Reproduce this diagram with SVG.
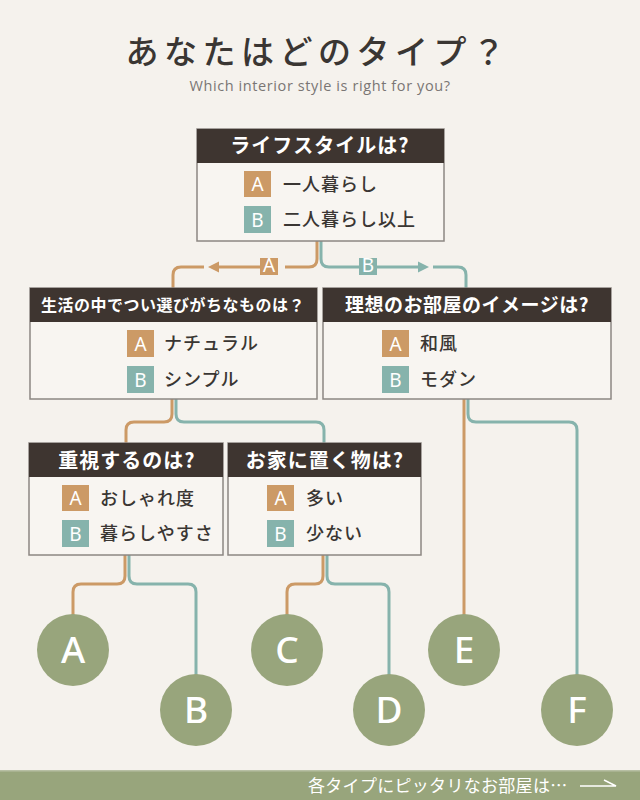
<svg xmlns="http://www.w3.org/2000/svg" width="640" height="800" viewBox="0 0 640 800">
<defs>
<style>
.bg{fill:#f5f2ed}
.body{fill:#f8f5f1;stroke:#8c8782;stroke-width:1.5}
.head{fill:#3e3530}
.ht{font-family:"Noto Sans CJK JP","Noto Sans",sans-serif;font-weight:700;fill:#ffffff;text-anchor:middle}
.ot{font-family:"Noto Sans CJK JP","Noto Sans",sans-serif;font-weight:500;font-size:18px;fill:#3a3633;letter-spacing:1px}
.ba{fill:#cc9a66}
.bb{fill:#86b3ac}
.bt{font-family:"Noto Sans","Noto Sans CJK JP",sans-serif;font-size:19px;fill:#ffffff;text-anchor:middle}
.co{fill:none;stroke:#cc9a66;stroke-width:3}
.ct{fill:none;stroke:#86b3ac;stroke-width:3}
.res{fill:#98a57c}
.rt{font-family:"Noto Sans","Liberation Sans",sans-serif;font-weight:500;font-size:37px;fill:#ffffff;text-anchor:middle}
</style>
</defs>
<rect class="bg" x="0" y="0" width="640" height="800"/>

<g id="title">
<text x="318" y="64" text-anchor="middle" font-family="'Noto Sans CJK JP','Noto Sans',sans-serif" font-weight="500" font-size="33" letter-spacing="5.5" fill="#3a3633">あなたはどのタイプ？</text>
<text x="320" y="91" text-anchor="middle" font-family="'Open Sans','Noto Sans',sans-serif" font-size="14.5" letter-spacing="0.6" fill="#7a7674">Which interior style is right for you?</text>
</g>

<g id="connectors">
<path class="co" d="M317,241 V259 Q317,267 309,267 H285"/>
<path class="co" d="M260,267 H217"/>
<polygon fill="#cc9a66" points="208,267 219,261.5 219,272.5"/>
<path class="co" d="M204,267 H181 Q173,267 173,275 V289"/>
<rect class="ba" x="260" y="258" width="18" height="17"/>
<text class="bt" x="269" y="272" font-size="14">A</text>
<path class="ct" d="M321,241 V259 Q321,267 329,267 H359"/>
<path class="ct" d="M377,267 H420"/>
<polygon fill="#86b3ac" points="429,267 418,261.5 418,272.5"/>
<path class="ct" d="M433,267 H458 Q466,267 466,275 V289"/>
<rect class="bb" x="359" y="258" width="18" height="17"/>
<text class="bt" x="368" y="272" font-size="14">B</text>

<path class="co" d="M172,399 V414 Q172,422 164,422 H134 Q126,422 126,430 V444"/>
<path class="ct" d="M176,399 V414 Q176,422 184,422 H316 Q324,422 324,430 V444"/>

<path class="co" d="M464,399 V615"/>
<path class="ct" d="M468,399 V414 Q468,422 476,422 H569 Q577,422 577,430 V675"/>

<path class="co" d="M125,555 V576 Q125,584 117,584 H81 Q73,584 73,592 V615"/>
<path class="ct" d="M129,555 V576 Q129,584 137,584 H188 Q196,584 196,592 V675"/>
<path class="co" d="M323,555 V576 Q323,584 315,584 H295 Q287,584 287,592 V615"/>
<path class="ct" d="M327,555 V576 Q327,584 335,584 H381 Q389,584 389,592 V675"/>
</g>

<g id="q-lifestyle">
<rect class="body" x="197" y="129" width="247" height="112"/>
<rect class="head" x="197" y="129" width="247" height="34"/>
<text class="ht" x="320" y="153" font-size="20" letter-spacing="1">ライフスタイルは?</text>
<rect class="ba" x="244" y="171" width="27" height="26"/>
<text class="bt" x="257.5" y="191">A</text>
<text class="ot" x="283" y="191">一人暮らし</text>
<rect class="bb" x="244" y="206" width="27" height="27"/>
<text class="bt" x="257.5" y="226.5">B</text>
<text class="ot" x="283" y="226">二人暮らし以上</text>
</g>

<g id="q-daily">
<rect class="body" x="30" y="288" width="287" height="111"/>
<rect class="head" x="30" y="288" width="287" height="34"/>
<text class="ht" x="173" y="311" font-size="16" letter-spacing="0.5">生活の中でつい選びがちなものは？</text>
<rect class="ba" x="127" y="330" width="27" height="27"/>
<text class="bt" x="140.5" y="350.5">A</text>
<text class="ot" x="164" y="350">ナチュラル</text>
<rect class="bb" x="127" y="366" width="27" height="27"/>
<text class="bt" x="140.5" y="386.5">B</text>
<text class="ot" x="164" y="386">シンプル</text>
</g>

<g id="q-room">
<rect class="body" x="323" y="288" width="288" height="111"/>
<rect class="head" x="323" y="288" width="288" height="34"/>
<text class="ht" x="467" y="312" font-size="19" letter-spacing="0.5">理想のお部屋のイメージは?</text>
<rect class="ba" x="382" y="330" width="27" height="27"/>
<text class="bt" x="395.5" y="350.5">A</text>
<text class="ot" x="420" y="350">和風</text>
<rect class="bb" x="382" y="366" width="27" height="27"/>
<text class="bt" x="395.5" y="386.5">B</text>
<text class="ot" x="420" y="386">モダン</text>
</g>

<g id="q-priority">
<rect class="body" x="29" y="443" width="194" height="112"/>
<rect class="head" x="29" y="443" width="194" height="34"/>
<text class="ht" x="127" y="468" font-size="20" letter-spacing="1">重視するのは?</text>
<rect class="ba" x="62" y="485" width="27" height="26"/>
<text class="bt" x="75.5" y="505">A</text>
<text class="ot" x="100" y="505">おしゃれ度</text>
<rect class="bb" x="62" y="520" width="27" height="27"/>
<text class="bt" x="75.5" y="540.5">B</text>
<text class="ot" x="100" y="540">暮らしやすさ</text>
</g>

<g id="q-things">
<rect class="body" x="228" y="443" width="193" height="112"/>
<rect class="head" x="228" y="443" width="193" height="34"/>
<text class="ht" x="325" y="468" font-size="20" letter-spacing="1">お家に置く物は?</text>
<rect class="ba" x="267" y="485" width="27" height="26"/>
<text class="bt" x="280.5" y="505">A</text>
<text class="ot" x="306" y="505">多い</text>
<rect class="bb" x="267" y="520" width="27" height="27"/>
<text class="bt" x="280.5" y="540.5">B</text>
<text class="ot" x="306" y="540">少ない</text>
</g>

<g id="type-a"><circle class="res" cx="73" cy="650" r="36"/><text class="rt" x="73" y="663">A</text></g>
<g id="type-b"><circle class="res" cx="196" cy="710" r="36"/><text class="rt" x="196" y="723">B</text></g>
<g id="type-c"><circle class="res" cx="287" cy="650" r="36"/><text class="rt" x="287" y="663">C</text></g>
<g id="type-d"><circle class="res" cx="389" cy="710" r="36"/><text class="rt" x="389" y="723">D</text></g>
<g id="type-e"><circle class="res" cx="464" cy="650" r="36"/><text class="rt" x="464" y="663">E</text></g>
<g id="type-f"><circle class="res" cx="577" cy="710" r="36"/><text class="rt" x="577" y="723">F</text></g>

<g id="footer">
<rect x="0" y="770" width="640" height="30" fill="#98a57c"/>
<rect x="0" y="770" width="640" height="1.5" fill="#b7bfa3"/>
<text x="308" y="792" font-family="'Noto Sans CJK JP','Noto Sans',sans-serif" font-size="17" letter-spacing="0.3" fill="#ffffff">各タイプにピッタリなお部屋は…</text>
<path d="M580,786 H616 L604,780" fill="none" stroke="#ffffff" stroke-width="1.5"/>
</g>
</svg>
